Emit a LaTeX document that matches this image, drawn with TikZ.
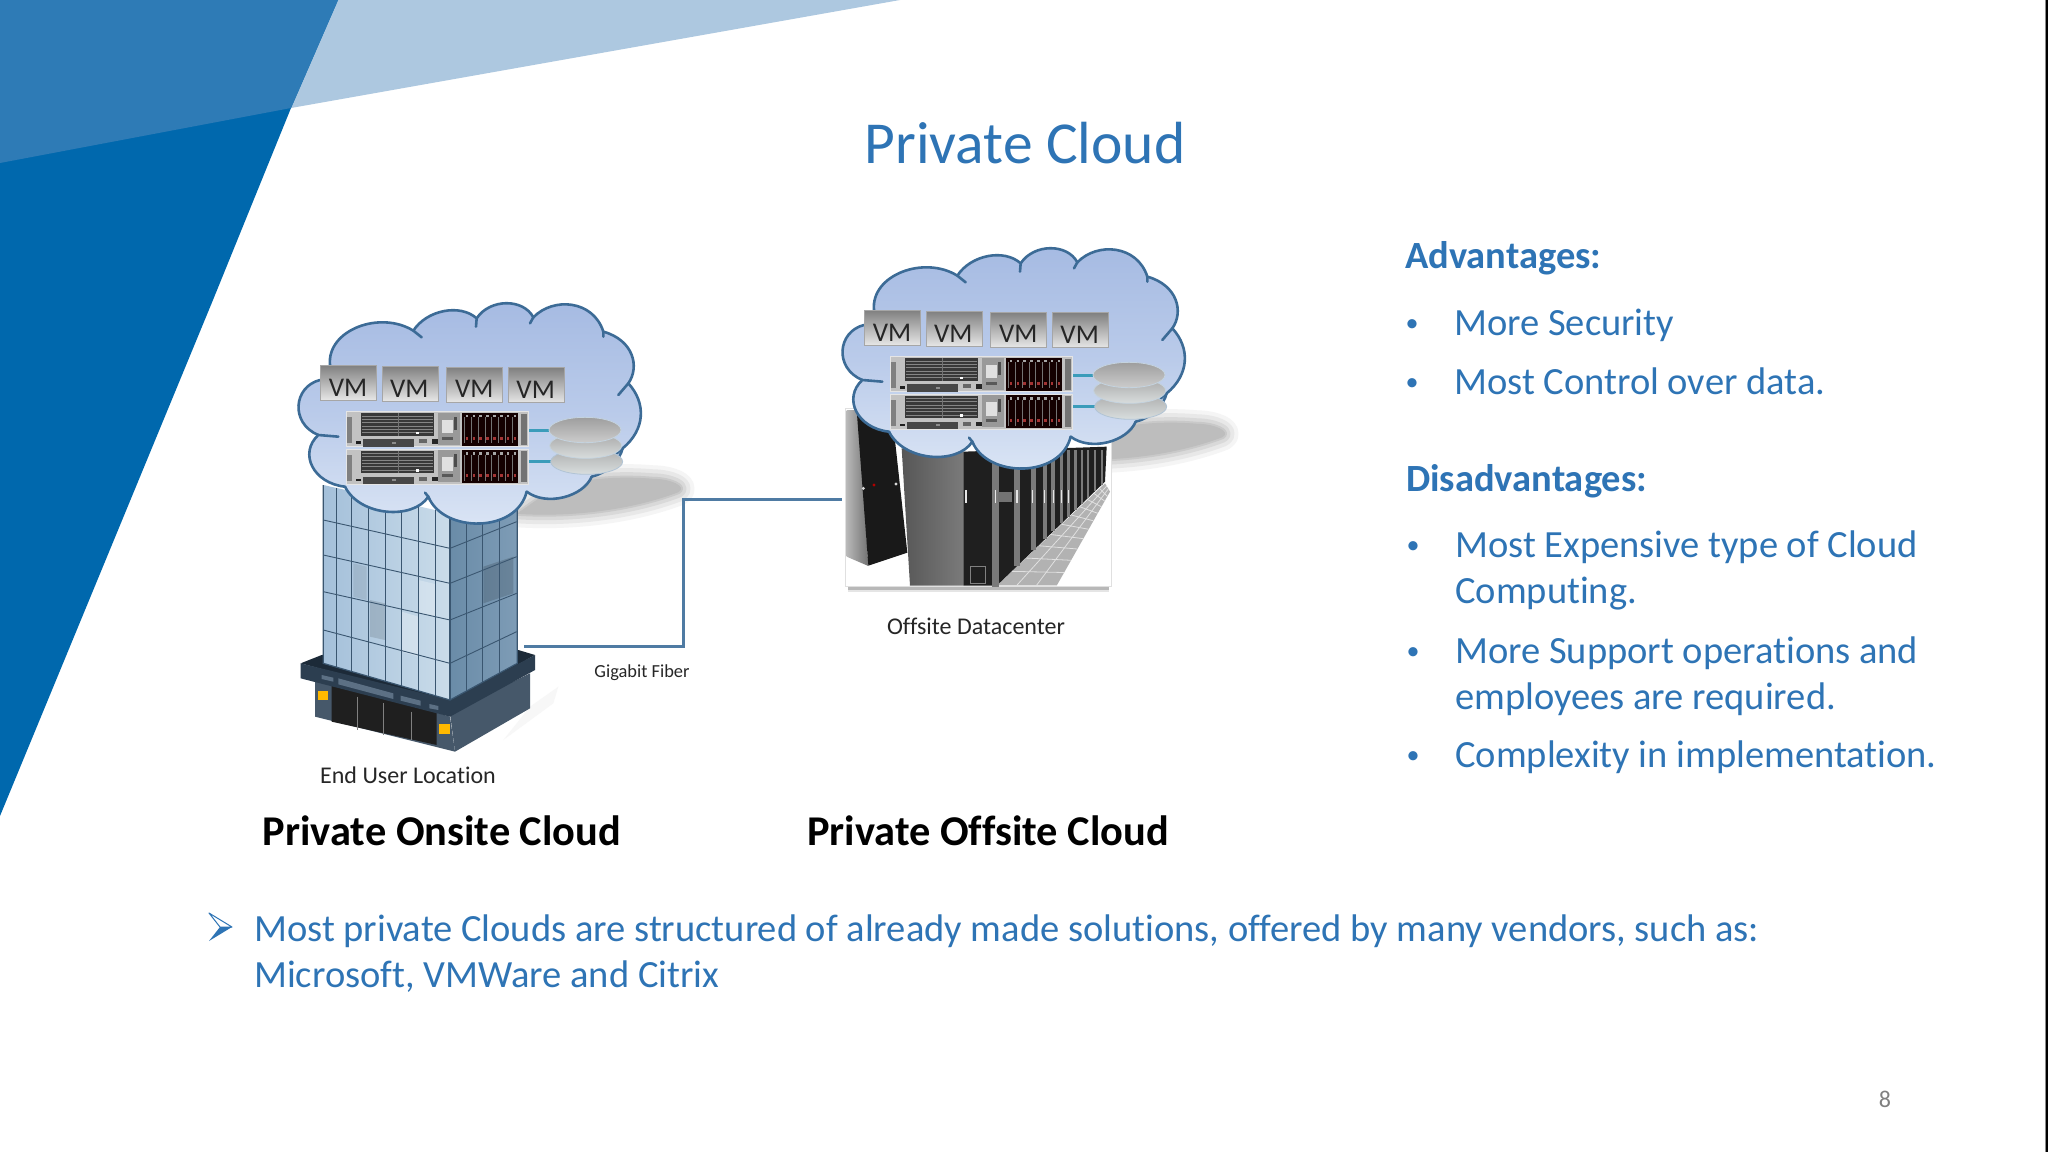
\documentclass[tikz,border=0pt]{standalone}
\usepackage{fontspec}
\setmainfont[Ligatures=NoCommon]{Carlito}
\usetikzlibrary{calc}
\definecolor{slideblue}{HTML}{2E74B5}
\definecolor{darkbg}{HTML}{0068AD}
\definecolor{midbg}{HTML}{2E7BB6}
\definecolor{lightbg}{HTML}{ADC8E0}
\definecolor{cloudline}{HTML}{3C6B96}
\definecolor{fiberline}{HTML}{4F7BA3}
\definecolor{winline}{HTML}{3A5670}
\definecolor{cloudtop}{HTML}{A5BAE2}
\definecolor{cloudmid}{HTML}{BACBEA}
\definecolor{cloudbot}{HTML}{DCE6F5}
\definecolor{glassA}{HTML}{A4C0DA}
\definecolor{glassB}{HTML}{CADCEA}
\definecolor{glassC}{HTML}{6A8CA8}
\definecolor{glassD}{HTML}{7E9CB6}
\definecolor{baseA}{HTML}{1C2A38}
\definecolor{baseB}{HTML}{2C3E50}
\definecolor{baseC}{HTML}{46586A}
\definecolor{baseD}{HTML}{5C7084}
\newcommand{\serverbody}{%
    \fill[black!24] (228,395) rectangle (775,500);
    \draw[black!10,line width=1pt] (228,395) rectangle (775,500);
    \fill[black!78] (272,400) rectangle (492,468);
    \foreach \y in {408,418,428,438,448,458}{\draw[black!48,line width=.5pt] (276,\y) -- (488,\y);}
    \draw[black!55,line width=.7pt] (385,400) -- (385,468);
    \fill[white] (438,455) rectangle (447,463);
    \fill[black!72] (280,478) rectangle (432,500);
    \fill[black!45] (365,485) rectangle (378,492);
    \fill[black!40] (505,398) rectangle (570,495);
    \fill[black!12] (515,420) rectangle (548,460);
    \fill[black!65] (515,470) rectangle (548,480);
    \fill[black!70] (552,410) rectangle (562,450);
    \fill[black!85] (487,478) rectangle (503,492);
    \fill[black!60] (448,478) rectangle (472,490);
    \fill[black!88] (258,484) rectangle (272,492);
    \fill[black!92!red] (577,398) rectangle (745,498);
    \foreach \i in {0,...,7}{
      \fill[black!35] ({587+\i*20.5},404) rectangle ({595+\i*20.5},412);
      \fill[red!55!black!80] ({587+\i*20.5},471) rectangle ({595+\i*20.5},479);
      \draw[black!55,line width=.5pt] ({583+\i*20.5},412) -- ({583+\i*20.5},490);
    }
    \fill[black!50] (232,412) rectangle (246,490);
    \fill[black!55] (752,402) rectangle (772,495);
}
\tikzset{
  x=1pt,y=-1pt,
  bodytext/.style={anchor=base west,inner sep=0pt,text=slideblue,font=\fontsize{38.5}{44}\selectfont},
  headtext/.style={bodytext,font=\fontsize{38.5}{44}\selectfont\bfseries},
  dottext/.style={anchor=base west,inner sep=0pt,text=slideblue,font=\fontsize{26}{30}\selectfont},
  caption/.style={anchor=base,inner sep=0pt,text=black!85,font=\fontsize{24}{30}\selectfont},
  bigcaption/.style={anchor=base,inner sep=0pt,text=black,font=\fontsize{42.4}{50}\selectfont\bfseries},
  vmbox/.style={draw=black!35,line width=0.8pt,top color=black!50,bottom color=black!10},
  vmtext/.style={inner sep=0pt,text=black!85,font=\fontsize{27}{30}\selectfont},
  cloudstroke/.style={draw=cloudline,line width=2.6pt,line cap=round},
  pics/cloudshadow/.style={code={
    \foreach \w/\c in {28/96,20/91,12/85,5/79,1/74}{
      \path[fill=white!\c!black,draw=white!\c!black,line width=\w pt,line join=round]
        (745,700) .. controls (900,710) and (1080,690) .. (1225,635)
        .. controls (1250,620) and (1200,598) .. (1150,598)
        .. controls (1060,590) and (960,595) .. (860,620) -- cycle;
    }
  }},
  pics/cloudstack/.style={code={
    \path[top color=cloudtop,bottom color=cloudbot,middle color=cloudmid]
      (150,300) -- (180,255) .. controls (170,150) and (330,90) .. (430,152)
      .. controls (470,90) and (570,70) .. (620,115)
      .. controls (660,55) and (760,55) .. (790,112)
      .. controls (850,50) and (970,60) .. (1000,155)
      .. controls (1090,180) and (1110,260) .. (1075,310)
      .. controls (1130,370) and (1125,450) .. (1058,505)
      .. controls (1050,540) and (1010,580) .. (965,590)
      .. controls (940,650) and (830,680) .. (770,635)
      .. controls (740,760) and (520,760) .. (475,650)
      .. controls (430,720) and (270,710) .. (225,620)
      .. controls (130,610) and (85,520) .. (145,465)
      .. controls (60,430) and (70,320) .. (150,300) -- cycle;
    \draw[cloudstroke] (180,255) .. controls (170,150) and (330,90) .. (430,152) -- (455,172);
    \draw[cloudstroke] (430,152) .. controls (470,90) and (570,70) .. (620,115) -- (618,140);
    \draw[cloudstroke] (620,115) .. controls (660,55) and (760,55) .. (790,112) -- (780,130);
    \draw[cloudstroke] (790,112) .. controls (850,50) and (970,60) .. (1000,155) -- (1000,170);
    \draw[cloudstroke] (1000,155) .. controls (1090,180) and (1110,260) .. (1075,310) -- (1045,345);
    \draw[cloudstroke] (1075,310) .. controls (1130,370) and (1125,450) .. (1058,505) -- (1040,520);
    \draw[cloudstroke] (1058,505) .. controls (1050,540) and (1010,580) .. (965,590);
    \draw[cloudstroke] (965,590) .. controls (940,650) and (830,680) .. (770,635);
    \draw[cloudstroke] (770,635) .. controls (740,760) and (520,760) .. (475,650) -- (465,638);
    \draw[cloudstroke] (475,650) .. controls (430,720) and (270,710) .. (225,620);
    \draw[cloudstroke] (225,620) .. controls (130,610) and (85,520) .. (145,465) -- (205,470);
    \draw[cloudstroke] (145,465) .. controls (60,430) and (70,320) .. (150,300);
    \node[vmbox,inner sep=0pt] (box1) at (234,307.5) {\rule{0pt}{35pt}\rule{56pt}{0pt}};
    \node[vmbox,inner sep=0pt] (box2) at (420,310.5) {\rule{0pt}{35pt}\rule{56pt}{0pt}};
    \node[vmbox,inner sep=0pt] (box3) at (613.5,313.5) {\rule{0pt}{35pt}\rule{56pt}{0pt}};
    \node[vmbox,inner sep=0pt] (box4) at (798.5,315) {\rule{0pt}{35pt}\rule{56pt}{0pt}};
    \node[vmtext] (vm1) at (234,323) {VM};
    \node[vmtext] (vm2) at (418,325) {VM};
    \node[vmtext] (vm3) at (613,327) {VM};
    \node[vmtext] (vm4) at (797,329) {VM};
    \draw[line width=3pt,draw=fiberline!75!cyan] (775,450) -- (845,450);
    \draw[line width=3pt,draw=fiberline!75!cyan] (775,545) -- (845,545);
    \serverbody
    \begin{scope}[shift={(0,112)}]
      \serverbody
    \end{scope}
    \path[top color=black!32,bottom color=cyan!15!black!15,draw=cloudline!40,line width=.8pt] (950,545) ellipse [x radius=108,y radius=38];
    \path[top color=black!34,bottom color=cyan!12!black!15,draw=cloudline!30,line width=.8pt] (947,497) ellipse [x radius=108,y radius=38];
    \path[top color=black!38,bottom color=black!20,draw=cloudline!30,line width=.8pt] (945,450) ellipse [x radius=108,y radius=38];
  }},
}
\begin{document}
\begin{tikzpicture}
\useasboundingbox (0,0) rectangle (2048,1152);
\fill[white] (0,0) rectangle (2048,1152);
% slide background
\fill[lightbg] (336,0) -- (900,0) -- (291,108) -- cycle;
\fill[darkbg] (0,0) -- (338,0) -- (291,108) -- (213,300) -- (0,816) -- cycle;
\fill[midbg] (0,0) -- (338,0) -- (291,108) -- (0,163) -- cycle;
\fill[black!45] (2045,0) rectangle (2046,1152);
\fill[black] (2046,0) rectangle (2048,1152);
% title
\node[anchor=base,inner sep=0pt,text=slideblue,font=\fontsize{59.5}{66}\selectfont] (title) at (1025,163.5) {Private Cloud};
% shadows behind
\pic at (270,280) [scale=1/3] {cloudshadow};
\pic at (814,225) [scale=1/3] {cloudshadow};
% building
\begin{scope}[shift={(270,500)},scale=1/3]
  \fill[black!3] (780,620) -- (865,560) -- (850,610) -- (700,720) -- cycle;
  % base
  \fill[baseA] (92,490) -- (155,465) -- (745,450) -- (795,465) -- (540,610) -- cycle;
  \fill[baseC] (135,530) -- (540,650) -- (555,755) -- (135,650) -- cycle;
  \fill[black!88] (185,555) -- (500,630) -- (500,735) -- (185,665) -- cycle;
  \fill[baseC] (540,640) -- (780,520) -- (780,625) -- (555,755) -- cycle;
  \fill[baseB] (92,490) -- (540,600) -- (795,465) -- (795,510) -- (540,650) -- (92,535) -- cycle;
  \draw[black!50,line width=.8pt] (262,590) -- (262,690) (340,610) -- (340,705) (425,635) -- (425,720);
  \fill[baseD] (205,535) -- (370,580) -- (370,597) -- (205,553) -- cycle;
  \fill[baseD] (392,587) -- (452,602) -- (452,617) -- (392,602) -- cycle;
  \fill[baseD] (155,525) -- (190,533) -- (190,545) -- (155,537) -- cycle;
  \fill[baseD] (478,612) -- (505,618) -- (505,630) -- (478,625) -- cycle;
  \fill[orange!55!yellow] (145,572) rectangle (175,600);
  \fill[orange!55!yellow] (508,672) rectangle (540,702);
  % glass faces
  \path[left color=glassA,right color=glassB] (160,-45) -- (540,40) -- (540,600) -- (160,490) -- cycle;
  \path[left color=glassC,right color=glassD] (540,40) -- (742,-30) -- (742,490) -- (540,600) -- cycle;
  \fill[black,opacity=.08] (250,190) -- (290,200) -- (290,300) -- (250,290) -- cycle;
  \fill[black,opacity=.12] (300,300) -- (345,310) -- (345,420) -- (300,410) -- cycle;
  \fill[white,opacity=.3] (395,335) -- (445,350) -- (445,470) -- (395,455) -- cycle;
  \fill[white,opacity=.25] (445,240) -- (495,252) -- (495,350) -- (445,340) -- cycle;
  \fill[black,opacity=.15] (640,200) -- (730,170) -- (730,280) -- (640,310) -- cycle;
  \foreach \v in {200,245,295,345,395,445,495}{
    \draw[winline,line width=.9pt] ({\v},{-45+(\v-160)*.2237}) -- ({\v},{490+(\v-160)*.29});}
  \foreach \h/\d in {60/85,165/85,275/85,390/100}{
    \draw[winline,line width=.9pt] (160,\h) -- (540,{\h+\d});}
  \foreach \v in {588,638,688}{
    \draw[winline,line width=.9pt] ({\v},{40-(\v-540)*.35}) -- ({\v},{600-(\v-540)*.545});}
  \foreach \h/\e in {145/65,250/170,360/280,490/395}{
    \draw[winline,line width=.9pt] (540,\h) -- (740,\e);}
  \draw[winline,line width=1.2pt] (160,-45) -- (160,490) -- (540,600) -- (742,490) -- (742,-30);
  \draw[winline,line width=1.2pt] (540,40) -- (540,600);
\end{scope}
% datacenter photo
\begin{scope}[shift={(820,420)},scale=1/3]
  \fill[black!10] (85,498) rectangle (868,516);
  \fill[black!28] (85,498) rectangle (868,509);
  \path[fill=white,draw=black!12,line width=1pt] (75,-35) rectangle (875,500);
  % floor tiles
  \fill[black!30] (530,497) -- (710,497) -- (870,215) -- (855,190) -- cycle;
  \foreach \t in {0,.14,.27,.39,.5,.6,.69,.77,.84,.9,.95}{
    \draw[black!12,line width=.8pt] ({530+\t*325},{497-\t*307}) -- ({710+\t*160},{497-\t*282});}
  \foreach \t in {.33,.66}{
    \draw[black!12,line width=.8pt] ({530+\t*180},497) -- ({855+\t*15},{190+\t*25});}
  % left rack
  \path[left color=black!28,right color=black!55] (80,-30) -- (115,-30) -- (145,438) -- (80,410) -- cycle;
  \fill[black!90] (110,-30) -- (215,-30) -- (262,398) -- (145,437) -- cycle;
  \fill[red!70!black] (162,195) circle [radius=5];
  \fill[black!15] (130,205) circle [radius=5];
  \fill[black!15] (228,192) circle [radius=5];
  % main rack
  \path[left color=black!66,right color=black!52] (245,85) -- (430,95) -- (430,497) -- (270,497) -- cycle;
  \fill[black!88] (430,95) -- (860,80) -- (855,185) -- (530,497) -- (430,497) -- cycle;
  \foreach \p/\w in {525/7,590/6,640/5,675/4,700/4,725/3,745/3,765/3,785/2,805/2,825/2,845/2}{
    \draw[black!52,line width=\w pt] (\p,90) -- (\p,{497-(\p-530)*.96});}
  \fill[black!55] (535,215) rectangle (575,245);
  \foreach \p in {438,527,591,637,674,700,724,745}{
    \draw[black!10,line width=1.6pt] (\p,210) -- (\p,250);}
  \draw[black!50,line width=.6pt] (450,440) rectangle (495,490);
\end{scope}
% clouds with their contents
\pic (onsite) at (270,280) [scale=1/3] {cloudstack};
\pic (offsite) at (814,225) [scale=1/3] {cloudstack};
% fiber link
\coordinate (bldg) at (524,646);
\coordinate (dc) at (842,499);
\draw[fiberline,line width=3pt] (bldg) -| ($(bldg)!.5!(dc)$) |- (dc);
% captions
\node[caption] (enduser) at (408,783) {End User Location};
\node[caption,font=\fontsize{18.4}{24}\selectfont] (fiberlabel) at (642,677) {Gigabit Fiber};
\node[caption] (offsiteDC) at (976,634) {Offsite Datacenter};
\node[bigcaption] (onsitecap) at (442,845) {Private Onsite Cloud};
\node[bigcaption] (offsitecap) at (988,845) {Private Offsite Cloud};
% right column
\node[headtext] (adv) at (1405,268.5) {Advantages:};
\node[dottext] (b1) at (1405.5,331) {•};
\node[bodytext] (t1) at (1454,335.8) {More Security};
\node[dottext] (b2) at (1405.5,390) {•};
\node[bodytext] (t2) at (1454,394.8) {Most Control over data.};
\node[headtext] (dis) at (1406,491.3) {Disadvantages:};
\node[dottext] (b3) at (1406.5,553) {•};
\node[bodytext] (t3) at (1455,557.8) {Most Expensive type of Cloud};
\node[bodytext] (t3b) at (1455,603.8) {Computing.};
\node[dottext] (b4) at (1406.5,659) {•};
\node[bodytext] (t4) at (1455,663.8) {More Support operations and};
\node[bodytext] (t4b) at (1455,709.3) {employees are required.};
\node[dottext] (b5) at (1406.5,763) {•};
\node[bodytext] (t5) at (1455,767.8) {Complexity in implementation.};
% bottom note
\draw[slideblue,line width=1pt,fill=white,line join=round] (209,913) -- (232,927) -- (220,927) -- cycle;
\fill[slideblue] (209,941) -- (232,927) -- (220,927) -- cycle;
\node[bodytext] (note1) at (254,941.8) {Most private Clouds are structured of already made solutions, offered by many vendors, such as:};
\node[bodytext] (note2) at (254,987.8) {Microsoft, VMWare and Citrix};
% page number
\node[anchor=base,inner sep=0pt,text=black!50,font=\fontsize{24}{28}\selectfont] (pagenum) at (1885,1107) {8};
\end{tikzpicture}
\end{document}
